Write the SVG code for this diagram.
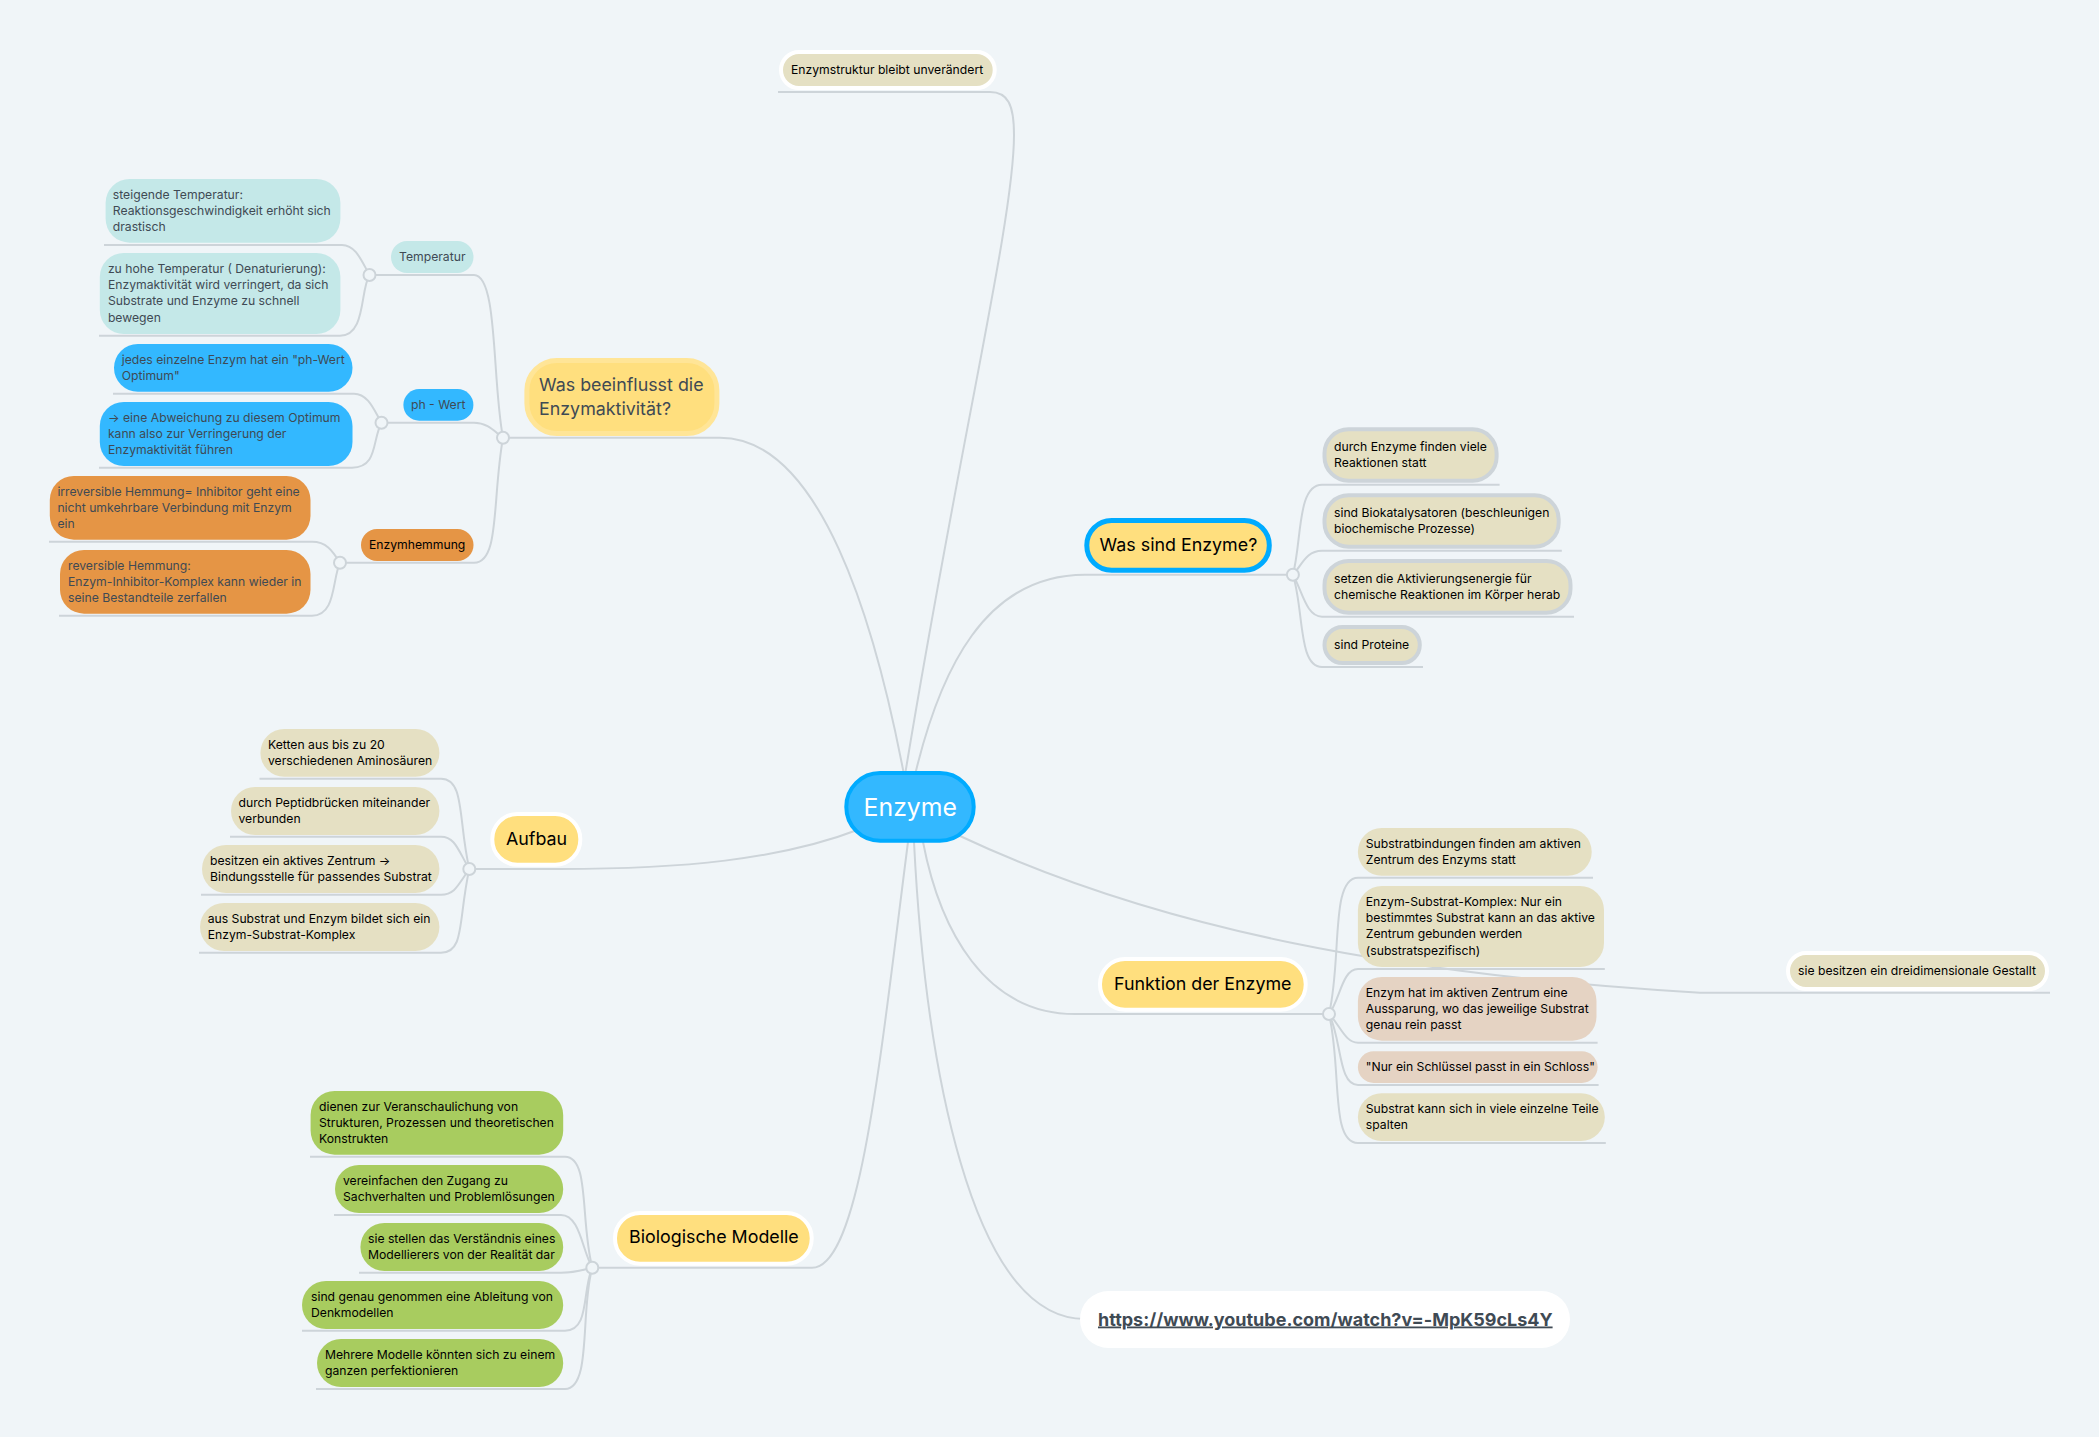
<svg xmlns="http://www.w3.org/2000/svg" width="2099" height="1437" viewBox="0 0 2099 1437">
<style>
text{font-family:"Inter","Noto Sans",sans-serif;font-size:12.2px;fill:#000}
.big{font-size:17.85px}
.grey{fill:#3f4a54}
.c{fill:none;stroke:#cdd4d9;stroke-width:2}
.hub{fill:#f0f5f8;stroke:#cdd4d9;stroke-width:2}
.teal{fill:#c4e8e8}.blue{fill:#33b8ff}.orange{fill:#e59545}.beige{fill:#e5e0c3}.green{fill:#a8cc5f}.pink{fill:#e5d3c3}.yellow{fill:#ffdf7e}
.wb{stroke:#fff;stroke-width:4}.gb{stroke:#cdd4d9;stroke-width:4}
</style>
<rect width="2099" height="1437" fill="#f0f5f8"/>
<g id="connectors">
<path class="c" d="M905 775C960 440 1014 220 1014 135C1014 105 1008 92 990 92L778 92"/>
<path class="c" d="M915 775C940 670 985 574.7 1085 574.7L1293 574.7"/>
<path class="c" d="M503 437.7L720 437.7C820 437.7 875 620 905 780"/>
<path class="c" d="M469 869L560 869C680 869 780 860 860 829"/>
<path class="c" d="M592 1267.7L812 1267.7C860 1267.7 880 1060 908 842"/>
<path class="c" d="M923 842C940 930 985 1014 1075 1014L1329 1014"/>
<path class="c" d="M914 842C925 1060 970 1319 1085 1319"/>
<path class="c" d="M960 836C1160 930 1400 975 1700 992.7L2050 992.7"/>
<path class="c" d="M503 437.7C492 380 498 275 474 275L369.5 275"/>
<path class="c" d="M503 437.7C495 432 488 422.7 474 422.7L381.5 422.7"/>
<path class="c" d="M503 437.7C492 500 500 562.7 474 562.7L340 562.7"/>
<path class="c" d="M369.5 275C362 262 356 245 342 245L104 245"/>
<path class="c" d="M369.5 275C360 290 366 335.7 340 335.7L99 335.7"/>
<path class="c" d="M381.5 422.7C374 410 368 393.7 354 393.7L113 393.7"/>
<path class="c" d="M381.5 422.7C372 440 378 467.7 352 467.7L99 467.7"/>
<path class="c" d="M340 562.7C332 550 326 541.7 312 541.7L49 541.7"/>
<path class="c" d="M340 562.7C332 580 336 615.7 312 615.7L59 615.7"/>
<path class="c" d="M469.3 869C458 820 465 778.7 441 778.7L259.5 778.7"/>
<path class="c" d="M469.3 869C458 850 455 836.7 441 836.7L230 836.7"/>
<path class="c" d="M469.3 869C458 885 455 894.7 441 894.7L201 894.7"/>
<path class="c" d="M469.3 869C458 920 465 952.7 441 952.7L199 952.7"/>
<path class="c" d="M592.3 1267.7C580 1220 590 1156.7 565 1156.7L310 1156.7"/>
<path class="c" d="M592.3 1267.7C582 1250 580 1215 561 1215L334 1215"/>
<path class="c" d="M592.3 1267.7C582 1270 575 1272.7 561 1272.7L359 1272.7"/>
<path class="c" d="M592.3 1267.7C582 1290 590 1330.7 565 1330.7L302 1330.7"/>
<path class="c" d="M592.3 1267.7C580 1310 592 1389 565 1389L316 1389"/>
<path class="c" d="M1292.9 574.7C1302 540 1297 484.7 1322 484.7L1499.6 484.7"/>
<path class="c" d="M1292.9 574.7C1302 565 1306 550.7 1322 550.7L1561.8 550.7"/>
<path class="c" d="M1292.9 574.7C1302 590 1306 616.7 1322 616.7L1574 616.7"/>
<path class="c" d="M1292.9 574.7C1304 610 1298 667 1322 667L1423 667"/>
<path class="c" d="M1329 1014C1342 960 1330 877.7 1358 877.7L1593 877.7"/>
<path class="c" d="M1329 1014C1340 1000 1342 969 1358 969L1604.8 969"/>
<path class="c" d="M1329 1014C1340 1025 1345 1042.7 1358 1042.7L1597.6 1042.7"/>
<path class="c" d="M1329 1014C1342 1040 1338 1085 1358 1085L1598.6 1085"/>
<path class="c" d="M1329 1014C1342 1070 1330 1143 1358 1143L1605.8 1143"/>
<circle class="hub" cx="503" cy="437.7" r="6"/>
<circle class="hub" cx="369.5" cy="275" r="6"/>
<circle class="hub" cx="381.5" cy="422.7" r="6"/>
<circle class="hub" cx="340" cy="562.7" r="6"/>
<circle class="hub" cx="469.3" cy="869" r="6"/>
<circle class="hub" cx="592.3" cy="1267.7" r="6"/>
<circle class="hub" cx="1292.9" cy="574.7" r="6"/>
<circle class="hub" cx="1329" cy="1014" r="6"/>
</g>
<g id="root"><rect x="846.3" y="773" width="127.4" height="67.7" rx="33.8" fill="#33b8ff" stroke="#00abff" stroke-width="4"/><text x="910.3" y="816" text-anchor="middle" style="font-size:24.8px;fill:#fff">Enzyme</text></g>
<g id="n-struktur"><rect x="781" y="52" width="213.7" height="36" rx="18" class="beige wb"/><text x="791" y="73.5">Enzymstruktur bleibt unverändert</text></g>
<g id="n-beeinflusst"><rect x="526.9" y="360.5" width="190" height="73" rx="30" class="yellow" stroke="#ffe597" stroke-width="5"/><text class="big grey" x="539" y="390.5">Was beeinflusst die</text><text class="big grey" x="539" y="414.5">Enzymaktivität?</text></g>
<g id="n-temp"><rect x="391" y="241" width="82.5" height="32" rx="16" class="teal"/><text class="grey" x="399" y="260.5">Temperatur</text></g>
<g id="n-temp1"><rect x="105.6" y="179" width="234.8" height="63.7" rx="24" class="teal"/><text class="grey" x="112.8" y="199.2">steigende Temperatur:</text><text class="grey" x="112.8" y="215.2">Reaktionsgeschwindigkeit erhöht sich</text><text class="grey" x="112.8" y="231.2">drastisch</text></g>
<g id="n-temp2"><rect x="99.8" y="253" width="240.6" height="81" rx="24" class="teal"/><text class="grey" x="107.9" y="273">zu hohe Temperatur ( Denaturierung):</text><text class="grey" x="107.9" y="289">Enzymaktivität wird verringert, da sich</text><text class="grey" x="107.9" y="305">Substrate und Enzyme zu schnell</text><text class="grey" x="107.9" y="322">bewegen</text></g>
<g id="n-ph"><rect x="403.4" y="389" width="70" height="31.7" rx="15.8" class="blue"/><text class="grey" x="411" y="408.5">ph - Wert</text></g>
<g id="n-ph1"><rect x="114" y="344" width="238.5" height="47.7" rx="23.8" class="blue"/><text class="grey" x="121.7" y="364">jedes einzelne Enzym hat ein "ph-Wert</text><text class="grey" x="121.7" y="380">Optimum"</text></g>
<g id="n-ph2"><rect x="99.8" y="402" width="252.7" height="64" rx="24" class="blue"/><text class="grey" x="107.9" y="422">→ eine Abweichung zu diesem Optimum</text><text class="grey" x="107.9" y="438">kann also zur Verringerung der</text><text class="grey" x="107.9" y="454">Enzymaktivität führen</text></g>
<g id="n-hemm"><rect x="361" y="529" width="112.5" height="32" rx="16" class="orange"/><text x="369" y="548.5">Enzymhemmung</text></g>
<g id="n-hemm1"><rect x="49.8" y="476" width="260.7" height="63.7" rx="24" class="orange"/><text class="grey" x="57.4" y="496">irreversible Hemmung= Inhibitor geht eine</text><text class="grey" x="57.4" y="512">nicht umkehrbare Verbindung mit Enzym</text><text class="grey" x="57.4" y="528">ein</text></g>
<g id="n-hemm2"><rect x="60" y="550" width="250.5" height="63.7" rx="24" class="orange"/><text class="grey" x="68" y="570">reversible Hemmung:</text><text class="grey" x="68" y="586">Enzym-Inhibitor-Komplex kann wieder in</text><text class="grey" x="68" y="602">seine Bestandteile zerfallen</text></g>
<g id="n-aufbau"><rect x="492.3" y="814" width="88" height="50.7" rx="25" class="yellow wb"/><text class="big" x="506" y="844.8">Aufbau</text></g>
<g id="n-auf1"><rect x="260.4" y="729" width="179" height="47.7" rx="23.8" class="beige"/><text x="268" y="749">Ketten aus bis zu 20</text><text x="268" y="765">verschiedenen Aminosäuren</text></g>
<g id="n-auf2"><rect x="231" y="787" width="208.4" height="48" rx="24" class="beige"/><text x="238.5" y="807">durch Peptidbrücken miteinander</text><text x="238.5" y="823">verbunden</text></g>
<g id="n-auf3"><rect x="202" y="845" width="237.4" height="48" rx="24" class="beige"/><text x="210" y="865">besitzen ein aktives Zentrum →</text><text x="210" y="881">Bindungsstelle für passendes Substrat</text></g>
<g id="n-auf4"><rect x="200" y="903" width="239.4" height="48" rx="24" class="beige"/><text x="207.7" y="923">aus Substrat und Enzym bildet sich ein</text><text x="207.7" y="939">Enzym-Substrat-Komplex</text></g>
<g id="n-bio"><rect x="615" y="1213" width="196.7" height="50.7" rx="25" class="yellow wb"/><text class="big" x="629" y="1243.3">Biologische Modelle</text></g>
<g id="n-bio1"><rect x="310.6" y="1091" width="252.6" height="63.7" rx="24" class="green"/><text x="319" y="1111">dienen zur Veranschaulichung von</text><text x="319" y="1127">Strukturen, Prozessen und theoretischen</text><text x="319" y="1143">Konstrukten</text></g>
<g id="n-bio2"><rect x="335" y="1165" width="228.2" height="48" rx="24" class="green"/><text x="343" y="1185">vereinfachen den Zugang zu</text><text x="343" y="1201">Sachverhalten und Problemlösungen</text></g>
<g id="n-bio3"><rect x="360.4" y="1223" width="202.8" height="48" rx="24" class="green"/><text x="368" y="1243">sie stellen das Verständnis eines</text><text x="368" y="1259">Modellierers von der Realität dar</text></g>
<g id="n-bio4"><rect x="302" y="1281" width="261.2" height="48" rx="24" class="green"/><text x="311" y="1301">sind genau genommen eine Ableitung von</text><text x="311" y="1317">Denkmodellen</text></g>
<g id="n-bio5"><rect x="317" y="1339" width="246.2" height="48" rx="24" class="green"/><text x="325" y="1359">Mehrere Modelle könnten sich zu einem</text><text x="325" y="1375">ganzen perfektionieren</text></g>
<g id="n-was"><rect x="1086.8" y="520.5" width="182.5" height="49.7" rx="24.8" class="yellow" stroke="#00abff" stroke-width="5"/><text class="big" x="1099.6" y="551">Was sind Enzyme?</text></g>
<g id="n-was1"><rect x="1324.5" y="429.3" width="172.1" height="51.4" rx="24" class="beige gb"/><text x="1334" y="450.5">durch Enzyme finden viele</text><text x="1334" y="466.5">Reaktionen statt</text></g>
<g id="n-was2"><rect x="1324.5" y="495.3" width="234.2" height="51.4" rx="24" class="beige gb"/><text x="1334" y="516.5">sind Biokatalysatoren (beschleunigen</text><text x="1334" y="532.5">biochemische Prozesse)</text></g>
<g id="n-was3"><rect x="1324.5" y="561" width="246" height="51.7" rx="24" class="beige gb"/><text x="1334" y="583">setzen die Aktivierungsenergie für</text><text x="1334" y="599">chemische Reaktionen im Körper herab</text></g>
<g id="n-was4"><rect x="1324.5" y="627" width="95.3" height="36" rx="18" class="beige gb"/><text x="1334" y="649">sind Proteine</text></g>
<g id="n-funk"><rect x="1100" y="959" width="205.7" height="50.7" rx="25" class="yellow wb"/><text class="big" x="1114" y="990">Funktion der Enzyme</text></g>
<g id="n-f1"><rect x="1357.9" y="828" width="233.8" height="47.7" rx="23.8" class="beige"/><text x="1365.8" y="848">Substratbindungen finden am aktiven</text><text x="1365.8" y="864">Zentrum des Enzyms statt</text></g>
<g id="n-f2"><rect x="1357.9" y="886" width="246.1" height="81" rx="24" class="beige"/><text x="1365.8" y="906">Enzym-Substrat-Komplex: Nur ein</text><text x="1365.8" y="922">bestimmtes Substrat kann an das aktive</text><text x="1365.8" y="938">Zentrum gebunden werden</text><text x="1365.8" y="955">(substratspezifisch)</text></g>
<g id="n-f3"><rect x="1357.9" y="977" width="238.6" height="63.7" rx="24" class="pink"/><text x="1365.8" y="997">Enzym hat im aktiven Zentrum eine</text><text x="1365.8" y="1013">Aussparung, wo das jeweilige Substrat</text><text x="1365.8" y="1029">genau rein passt</text></g>
<g id="n-f4"><rect x="1357.9" y="1051.3" width="239.7" height="31.7" rx="15.8" class="pink"/><text x="1365.8" y="1070.5">"Nur ein Schlüssel passt in ein Schloss"</text></g>
<g id="n-f5"><rect x="1357.9" y="1093.3" width="246.9" height="47.7" rx="23.8" class="beige"/><text x="1365.8" y="1113">Substrat kann sich in viele einzelne Teile</text><text x="1365.8" y="1129">spalten</text></g>
<g id="n-gestalt"><rect x="1788" y="953" width="259" height="36" rx="18" class="beige wb"/><text x="1798" y="975">sie besitzen ein dreidimensionale Gestallt</text></g>
<g id="n-link"><rect x="1080" y="1291" width="490" height="57" rx="28.5" fill="#fff"/><text x="1098" y="1325.5" style="font-size:18px;font-weight:700;fill:#3f4a54" text-decoration="underline">https://www.youtube.com/watch?v=-MpK59cLs4Y</text></g>
</svg>
